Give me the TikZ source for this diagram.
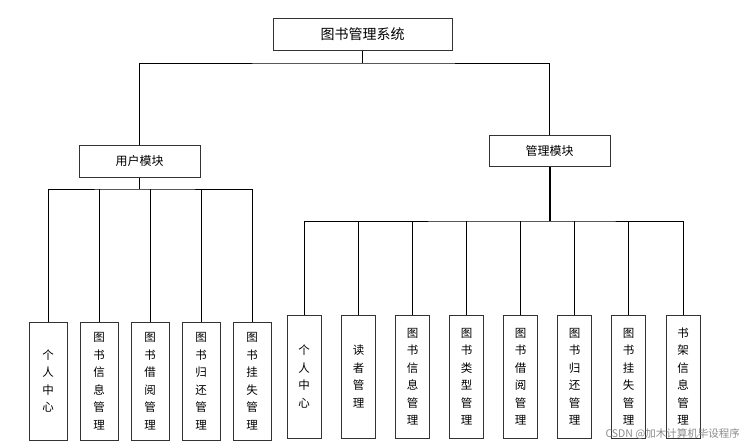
\documentclass[tikz,border=0pt]{standalone}
\usepackage{fontspec}
\setmainfont{Noto Sans CJK SC}
\begin{document}
\begin{tikzpicture}[x=1pt,y=-1pt,
  box/.style={draw=black!80,line width=1pt,fill=white,inner sep=0pt,font=\fontsize{12}{14}\selectfont},
  leaf/.style={draw=black!80,line width=1pt,fill=white,inner sep=0pt,minimum width=35pt,minimum height=120pt,align=center,font=\fontsize{11.5}{17.5}\selectfont},
  wire/.style={line width=0.8pt,black}]
\useasboundingbox[fill=white] (0,0) rectangle (744,447);
\node[box,minimum width=179pt,minimum height=32pt,font=\fontsize{14}{16}\selectfont] (root) at (362.5,34) {图书管理系统};
\node[box,minimum width=121pt,minimum height=32pt] (user) at (139.5,161) {用户模块};
\node[box,minimum width=121pt,minimum height=31pt] (mgr) at (549.5,150.5) {管理模块};
\coordinate (j0) at (362.5,63);
\draw[wire] (root.south) -- (j0);
\draw[wire] (user.north) |- (j0) -| (mgr.north);
% user leaves
\foreach \x/\t [count=\i] in {48/个\\人\\中\\心, 99/图\\书\\信\\息\\管\\理, 150/图\\书\\借\\阅\\管\\理, 201/图\\书\\归\\还\\管\\理, 252/图\\书\\挂\\失\\管\\理}{
  \node[leaf,minimum width=38pt,minimum height=118pt] (u\i) at (\x,381) {\t};
}
\coordinate (ju) at (139.5,189);
\draw[wire] (user.south) -- (ju);
\draw[wire] (u1.north) |- (ju) -| (u5.north);
\foreach \i in {2,3,4} \draw[wire] (u\i.north) -- (u\i.north |- ju);
% manage leaves
\foreach \x/\t [count=\i] in {304/个\\人\\中\\心, 358.5/读\\者\\管\\理, 412.5/图\\书\\信\\息\\管\\理, 466.5/图\\书\\类\\型\\管\\理, 520.5/图\\书\\借\\阅\\管\\理, 574.5/图\\书\\归\\还\\管\\理, 628.5/图\\书\\挂\\失\\管\\理, 683/书\\架\\信\\息\\管\\理}{
  \node[leaf,minimum width=34pt,minimum height=123pt] (m\i) at (\x,376.5) {\t};
}
\coordinate (jm) at (549.5,221);
\draw[line width=2pt] (mgr.south) -- (jm);
\draw[wire] (m1.north) |- (jm) -| (m8.north);
\foreach \i in {2,...,7} \draw[wire] (m\i.north) -- (m\i.north |- jm);
\node[anchor=east,text=black!45,font=\fontsize{10.5}{12}\selectfont,inner sep=0pt] (wm) at (740,434) {CSDN @加木计算机毕设程序};
\end{tikzpicture}
\end{document}
